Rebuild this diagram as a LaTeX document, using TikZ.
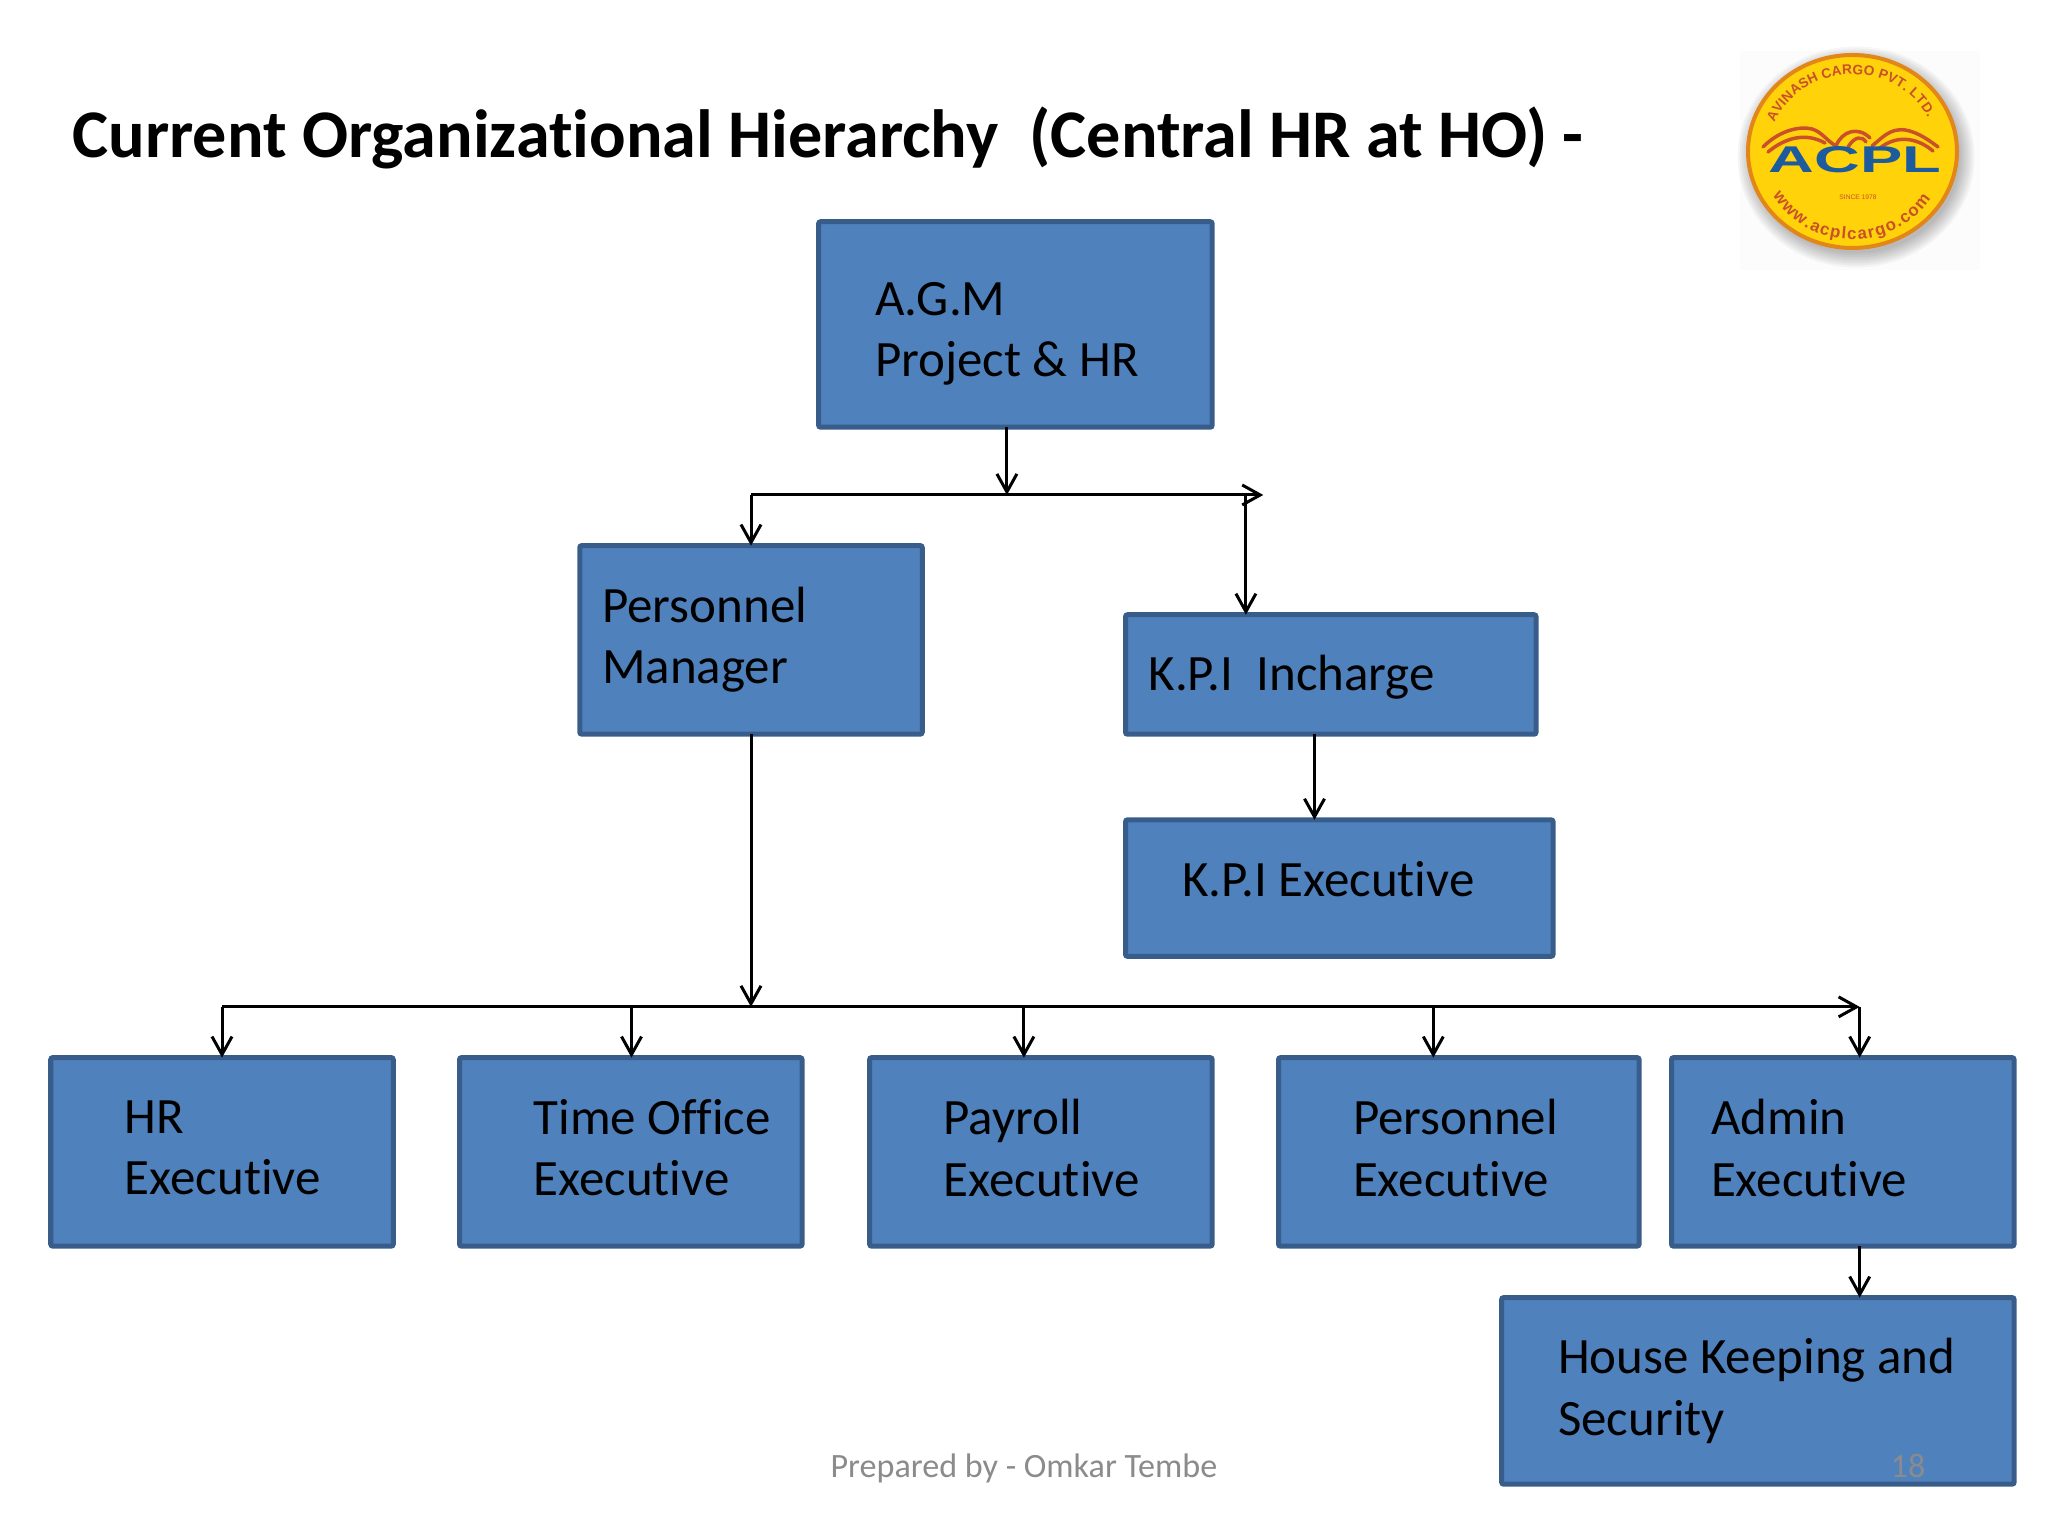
\documentclass[tikz,border=0pt]{standalone}
\usepackage{fontspec}
\setmainfont{Carlito}[Ligatures=NoCommon]
\newfontfamily\logofont{Liberation Sans}
\usetikzlibrary{arrows.meta,decorations.text}
\definecolor{boxfill}{HTML}{4F81BD}
\definecolor{boxline}{HTML}{385D8A}
\definecolor{footgray}{HTML}{8B8B8B}
\definecolor{logoyellow}{HTML}{FFD20A}
\definecolor{logoedge}{HTML}{E2861A}
\definecolor{logored}{HTML}{C9502A}
\definecolor{logoblue}{HTML}{1C5C9E}
\def\toptext{|\logofont\fontsize{3.9}{5}\selectfont\bfseries\color{logored}|AVINASH CARGO PVT. LTD.}
\def\bottext{|\logofont\fontsize{4.8}{6}\selectfont\bfseries\color{logored}|www.acplcargo.com}
\tikzset{
	hrbox/.style n args={4}{draw=boxline, fill=boxfill, line width=0.05cm, rounded corners=0.02cm,
		outer sep=0pt, inner sep=0pt, minimum width=#1, minimum height=#2, text width=#1, align=left,
		font=\fontsize{14.5}{17.45}\selectfont, execute at begin node={\spaceskip=0pt\xspaceskip=0pt\leftskip=#3\relax},
		execute at end node={\par\vspace{#4}}},
	arr/.style={line width=0.03cm, -{Straight Barb[length=0.18cm,width=0.2cm]}},
	wing/.style={draw=logored, line width=0.035cm, line cap=round},
	foot/.style={text=footgray, font=\fontsize{9.7}{11}\selectfont}
}
\begin{document}
\begin{tikzpicture}
	%%%%% START %%%%%
	\useasboundingbox (0,0) rectangle (20.48,15.36);
	
	\node[anchor=base west, inner sep=0pt, font=\fontsize{19.4}{24}\selectfont\bfseries] (title) at (0.718,13.785) {Current Organizational Hierarchy\ \ (Central HR at HO) -};
	
	% logo
	\fill[black!1] (17.40,12.66) rectangle (19.80,14.85);
	\foreach \r in {0,1,...,7}
		\fill[black, opacity=0.035] (18.56,13.79) ellipse ({1.045+0.02*\r} and {0.965+0.02*\r});
	\draw[fill=logoyellow, draw=logoedge, line width=0.04cm] (18.525,13.845) ellipse (1.045 and 0.965);
	\path[decorate, decoration={text along path, text align=fit to path, text={\toptext}}]
		(18.525,13.845) ++(158:0.84 and 0.77) arc[start angle=158, end angle=26, x radius=0.84, y radius=0.77];
	\path[decorate, decoration={text along path, text align=fit to path, text={\bottext}}]
		(18.525,13.845) ++(210:0.92 and 0.88) arc[start angle=210, end angle=328, x radius=0.92, y radius=0.88];
	\draw[wing] (17.63,13.89) .. controls (17.80,14.06) and (18.00,14.10) .. (18.12,14.07) .. controls (18.22,14.04) and (18.27,13.95) .. (18.36,13.90);
	\draw[wing] (17.68,13.84) .. controls (17.85,13.98) and (18.05,14.04) .. (18.25,13.93);
	\draw[wing] (18.36,13.90) .. controls (18.42,14.05) and (18.58,14.10) .. (18.70,13.98);
	\draw[wing] (18.48,13.89) .. controls (18.55,14.00) and (18.62,14.00) .. (18.66,13.94);
	\draw[wing] (18.72,13.90) .. controls (18.82,13.98) and (18.90,14.08) .. (19.05,14.06) .. controls (19.18,14.04) and (19.30,13.95) .. (19.38,13.89);
	\draw[wing] (18.80,13.88) .. controls (18.95,14.00) and (19.15,14.00) .. (19.33,13.85);
	\node[xscale=1.7, text=logoblue, font=\logofont\fontsize{10.6}{12}\selectfont\bfseries, inner sep=0pt] (acpl) at (18.55,13.76) {ACPL};
	\node[text=logored, font=\logofont\fontsize{1.9}{2}\selectfont, inner sep=0pt] (since) at (18.58,13.39) {SINCE 1978};
	
	% boxes
	\node[hrbox={3.935cm}{2.055cm}{0.565cm}{-0.183cm}] (agm) at (10.154,12.115) {A.G.M\\Project \& HR};
	\node[hrbox={3.425cm}{1.885cm}{0.225cm}{0pt}] (pm) at (7.510,8.961) {Personnel\\Manager};
	\node[hrbox={4.105cm}{1.195cm}{0.23cm}{-0.052cm}] (kpiinc) at (13.308,8.615) {K.P.I\ \ Incharge};
	\node[hrbox={4.275cm}{1.365cm}{0.565cm}{0.183cm}] (kpiexec) at (13.393,6.479) {K.P.I Executive};
	\node[hrbox={3.425cm}{1.885cm}{0.74cm}{0.078cm}] (hr) at (2.220,3.841) {HR\\Executive};
	\node[hrbox={3.425cm}{1.885cm}{0.74cm}{0.078cm}] (time) at (6.308,3.841) {Time Office\\Executive};
	\node[hrbox={3.425cm}{1.885cm}{0.74cm}{0.078cm}] (payroll) at (10.409,3.841) {Payroll\\Executive};
	\node[hrbox={3.605cm}{1.885cm}{0.745cm}{0.078cm}] (persexec) at (14.588,3.841) {Personnel\\Executive};
	\node[hrbox={3.425cm}{1.885cm}{0.395cm}{0.078cm}] (admin) at (18.428,3.841) {Admin\\Executive};
	\node[hrbox={5.125cm}{1.865cm}{0.565cm}{0pt}] (house) at (17.579,1.451) {House Keeping and\\Security};
	
	% upper bus
	\coordinate (busleft) at (7.510,10.410);
	\coordinate (busmid) at (10.069,10.410);
	\coordinate (busright) at (12.633,10.410);
	\coordinate (kpitap) at (12.459,10.410);
	\draw[arr] (busmid |- agm.south) -- (busmid);
	\draw[arr] (busleft) -- (busright);
	\draw[arr] (busleft) -- (pm.north);
	\draw[arr] (kpitap) -- (kpitap |- kpiinc.north);
	\coordinate (kpidrop) at (13.145,7);
	\draw[arr] (kpidrop |- kpiinc.south) -- (kpidrop |- kpiexec.north);
	
	% lower bus
	\coordinate (lowleft) at (2.220,5.291);
	\coordinate (lowmid) at (7.510,5.291);
	\coordinate (lowright) at (18.597,5.291);
	\draw[arr] (pm.south) -- (lowmid);
	\draw[arr] (lowleft) -- (lowright);
	\foreach \tapx/\target in {2.220/hr, 6.315/time, 10.239/payroll, 14.333/persexec, 18.597/admin}{
		\coordinate (tap\target) at (\tapx,5.291);
		\draw[arr] (tap\target) -- (tap\target |- \target.north);
	}
	\draw[arr] (tapadmin |- admin.south) -- (tapadmin |- house.north);
	
	% footer
	\node[foot] (prepared) at (10.239,0.679) {Prepared by - Omkar Tembe};
	\node[foot] (pageno) at (19.08,0.705) {18};
	
	%%%%% END %%%%%
\end{tikzpicture}
\end{document}
